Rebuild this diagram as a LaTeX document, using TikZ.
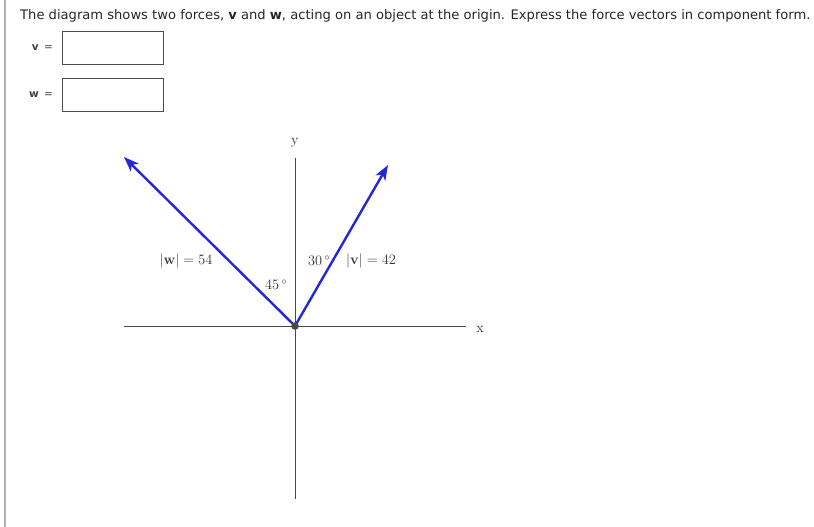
\documentclass[tikz,border=0pt]{standalone}
\usepackage[no-math]{fontspec}
\setmainfont{DejaVu Sans}
\usetikzlibrary{arrows.meta}
\definecolor{vecblue}{RGB}{38,38,214}
\definecolor{axisgray}{RGB}{72,72,72}
\tikzstyle{question} = [anchor=west, inner sep=0pt, font=\fontsize{13.1}{15}\selectfont, text=black!85]
\tikzstyle{answer} = [rectangle, minimum width=101pt, minimum height=33pt, draw=black!70, line width=0.8pt, inner sep=0pt]
\tikzstyle{varlabel} = [anchor=east, inner sep=0pt, font=\fontsize{10.5}{12}\selectfont, text=black!75]
\tikzstyle{axis} = [draw=axisgray, line width=1pt]
\tikzstyle{force} = [draw=vecblue, line width=2.4pt, -{Stealth[length=15pt, width=11pt, inset=4pt]}]
\tikzstyle{mlabel} = [inner sep=0pt, font=\fontsize{14}{16}\selectfont, text=black!80]

\begin{document}
\begin{tikzpicture}[x=1pt, y=-1pt]
\useasboundingbox (0,0) rectangle (814,527);
\draw [black!30, line width=1.2pt] (5,0) -- (5,527);

\node (task) [question] at (20,16) {The diagram shows two forces, \textbf{v} and \textbf{w}, acting on an object at the origin. Express the force vectors in component form.};

\node (vbox) [answer] at (112.5,47.5) {};
\node (wbox) [answer] at (112.5,94.5) {};
\node (veq) [varlabel] at (53,48) {\textbf{v}\enspace=};
\node (weq) [varlabel] at (53,95) {\textbf{w}\enspace=};

\coordinate (O) at (295,326);
\coordinate (xleft) at (124,326);
\coordinate (xright) at (466,326);
\coordinate (ytop) at (295,158);
\coordinate (ybottom) at (295,499);
\coordinate (vtip) at (388,165);
\coordinate (wtip) at (124,157);

\draw [axis] (xleft) -- (xright);
\draw [axis] (ytop) -- (ybottom);
\node (xlab) [mlabel] at (480,329) {$\mathrm{x}$};
\node (ylab) [mlabel] at (295,143) {$\mathrm{y}$};

\draw [force] (O) -- (wtip);
\draw [force] (O) -- (vtip);
\fill [axisgray] (O) circle (3.8pt);

\node (wmag) [mlabel] at (186,261) {$|\mathbf{w}| = 54$};
\node (vmag) [mlabel] at (371,261) {$|\mathbf{v}| = 42$};
\node (wang) [mlabel] at (276,285) {$45\,^{\circ}$};
\node (vang) [mlabel] at (319,261) {$30\,^{\circ}$};
\end{tikzpicture}
\end{document}
